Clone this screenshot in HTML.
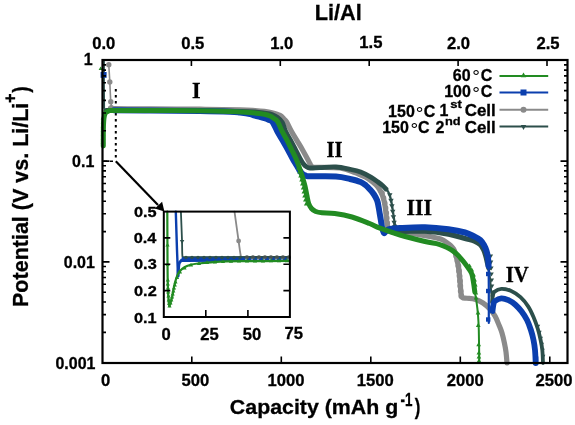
<!DOCTYPE html>
<html><head><meta charset="utf-8"><style>html,body{margin:0;padding:0;background:#fff;width:575px;height:425px;overflow:hidden}svg{display:block}</style></head>
<body>
<svg width="575" height="425" viewBox="0 0 575 425">
<rect width="575" height="425" fill="#fff"/>
<line x1="115.8" y1="89" x2="115.8" y2="160" stroke="#000" stroke-width="2" stroke-dasharray="2.6,3.4"/>
<line x1="104" y1="161.2" x2="115.8" y2="161.2" stroke="#000" stroke-width="1.6" stroke-dasharray="3,3"/>
<path d="M108.80,64.80 C108.97,67.67 109.47,75.83 109.80,82.00 C110.13,88.17 110.43,97.55 110.80,101.80 C111.17,106.05 111.80,106.55 112.00,107.50" fill="none" stroke="#8a8a8a" stroke-width="1.6" stroke-linejoin="round" stroke-linecap="round" />
<circle cx="108.8" cy="64.8" r="2.7" fill="#8a8a8a"/>
<circle cx="109.8" cy="82.0" r="2.7" fill="#8a8a8a"/>
<circle cx="110.8" cy="101.8" r="2.7" fill="#8a8a8a"/>
<path d="M111.50,107.50 C111.92,107.70 107.58,108.47 114.00,108.70 C120.42,108.93 135.67,108.82 150.00,108.90 C164.33,108.98 185.00,109.03 200.00,109.20 C215.00,109.37 230.83,109.67 240.00,109.90 C249.17,110.13 250.93,110.35 255.00,110.60 C259.07,110.85 261.57,111.05 264.40,111.40 C267.23,111.75 269.40,112.05 272.00,112.70 C274.60,113.35 278.00,114.25 280.00,115.30 C282.00,116.35 282.90,117.92 284.00,119.00 C285.10,120.08 285.37,119.77 286.60,121.80 C287.83,123.83 289.67,128.07 291.40,131.20 C293.13,134.33 295.18,137.55 297.00,140.60 C298.82,143.65 300.57,146.47 302.30,149.50 C304.03,152.53 306.13,156.47 307.40,158.80 C308.67,161.13 309.22,162.25 309.90,163.50 C310.58,164.75 310.48,165.67 311.50,166.30 C312.52,166.93 311.25,167.02 316.00,167.30 C320.75,167.58 333.50,167.13 340.00,168.00 C346.50,168.87 351.57,171.33 355.00,172.50 C358.43,173.67 358.43,174.00 360.60,175.00 C362.77,176.00 365.43,176.83 368.00,178.50 C370.57,180.17 374.03,183.08 376.00,185.00 C377.97,186.92 378.75,188.33 379.80,190.00 C380.85,191.67 381.60,193.23 382.30,195.00 C383.00,196.77 383.52,198.60 384.00,200.60 C384.48,202.60 384.87,204.77 385.20,207.00 C385.53,209.23 385.77,211.83 386.00,214.00 C386.23,216.17 386.35,218.00 386.60,220.00 C386.85,222.00 386.93,224.17 387.50,226.00 C388.07,227.83 388.58,229.87 390.00,231.00 C391.42,232.13 392.67,232.38 396.00,232.80 C399.33,233.22 405.17,233.03 410.00,233.50 C414.83,233.97 420.53,234.85 425.00,235.60 C429.47,236.35 433.80,237.27 436.80,238.00 C439.80,238.73 441.05,239.03 443.00,240.00 C444.95,240.97 447.00,242.63 448.50,243.80 C450.00,244.97 451.02,245.87 452.00,247.00 C452.98,248.13 453.60,248.63 454.40,250.60 C455.20,252.57 456.12,256.07 456.80,258.80 C457.48,261.53 458.05,264.30 458.50,267.00 C458.95,269.70 459.20,272.00 459.50,275.00 C459.80,278.00 460.05,282.00 460.30,285.00 C460.55,288.00 460.67,290.92 461.00,293.00 C461.33,295.08 461.30,296.63 462.30,297.50 C463.30,298.37 464.88,297.90 467.00,298.20 C469.12,298.50 472.33,298.50 475.00,299.30 C477.67,300.10 480.45,301.32 483.00,303.00 C485.55,304.68 488.30,307.23 490.30,309.40 C492.30,311.57 493.53,313.35 495.00,316.00 C496.47,318.65 497.93,322.47 499.10,325.30 C500.27,328.13 501.12,330.05 502.00,333.00 C502.88,335.95 503.73,339.83 504.40,343.00 C505.07,346.17 505.57,348.67 506.00,352.00 C506.43,355.33 506.83,361.17 507.00,363.00" fill="none" stroke="#8a8a8a" stroke-width="5.2" stroke-linejoin="round" stroke-linecap="round" />
<circle cx="456.3" cy="256.0" r="2.9" fill="#8a8a8a"/>
<circle cx="457.5" cy="261.0" r="2.9" fill="#8a8a8a"/>
<circle cx="458.4" cy="266.0" r="2.9" fill="#8a8a8a"/>
<circle cx="459.0" cy="271.0" r="2.9" fill="#8a8a8a"/>
<circle cx="459.5" cy="276.0" r="2.9" fill="#8a8a8a"/>
<circle cx="460.0" cy="281.0" r="2.9" fill="#8a8a8a"/>
<circle cx="460.3" cy="286.0" r="2.9" fill="#8a8a8a"/>
<circle cx="460.7" cy="291.0" r="2.9" fill="#8a8a8a"/>
<circle cx="461.3" cy="296.0" r="2.9" fill="#8a8a8a"/>
<circle cx="382.1" cy="193.0" r="2.7" fill="#8a8a8a"/>
<circle cx="383.6" cy="198.0" r="2.7" fill="#8a8a8a"/>
<circle cx="384.8" cy="203.0" r="2.7" fill="#8a8a8a"/>
<circle cx="385.7" cy="208.0" r="2.7" fill="#8a8a8a"/>
<circle cx="386.4" cy="213.0" r="2.7" fill="#8a8a8a"/>
<circle cx="386.9" cy="218.0" r="2.7" fill="#8a8a8a"/>
<circle cx="387.4" cy="223.0" r="2.7" fill="#8a8a8a"/>
<path d="M106.00,110.30 C113.33,110.30 134.33,110.25 150.00,110.30 C165.67,110.35 185.00,110.43 200.00,110.60 C215.00,110.77 230.83,111.07 240.00,111.30 C249.17,111.53 250.93,111.68 255.00,112.00 C259.07,112.32 261.57,112.77 264.40,113.20 C267.23,113.63 269.82,113.88 272.00,114.60 C274.18,115.32 275.78,116.18 277.50,117.50 C279.22,118.82 280.95,120.22 282.30,122.50 C283.65,124.78 284.18,128.18 285.60,131.20 C287.02,134.22 289.15,137.55 290.80,140.60 C292.45,143.65 293.92,146.47 295.50,149.50 C297.08,152.53 298.97,156.38 300.30,158.80 C301.63,161.22 302.47,162.67 303.50,164.00 C304.53,165.33 305.42,166.13 306.50,166.80 C307.58,167.47 307.75,167.87 310.00,168.00 C312.25,168.13 315.67,167.77 320.00,167.60 C324.33,167.43 331.00,166.72 336.00,167.00 C341.00,167.28 345.90,168.47 350.00,169.30 C354.10,170.13 357.07,170.67 360.60,172.00 C364.13,173.33 368.30,175.63 371.20,177.30 C374.10,178.97 376.12,180.63 378.00,182.00 C379.88,183.37 381.17,184.33 382.50,185.50 C383.83,186.67 385.42,188.42 386.00,189.00" fill="none" stroke="#2c4f4b" stroke-width="4.8" stroke-linejoin="round" stroke-linecap="round" />
<path d="M384.00,187.00 C384.50,187.50 386.12,188.83 387.00,190.00 C387.88,191.17 388.67,192.50 389.30,194.00 C389.93,195.50 390.35,197.17 390.80,199.00 C391.25,200.83 391.55,202.33 392.00,205.00 C392.45,207.67 393.08,212.17 393.50,215.00 C393.92,217.83 394.17,219.83 394.50,222.00 C394.83,224.17 395.33,227.00 395.50,228.00" fill="none" stroke="#2c4f4b" stroke-width="2.2" stroke-linejoin="round" stroke-linecap="round" />
<polygon points="389.8,198.0 387.1,193.2 392.5,193.2" fill="#2c4f4b"/>
<polygon points="391.0,203.5 388.3,198.7 393.7,198.7" fill="#2c4f4b"/>
<polygon points="391.9,209.0 389.2,204.2 394.6,204.2" fill="#2c4f4b"/>
<polygon points="392.7,214.5 390.0,209.7 395.4,209.7" fill="#2c4f4b"/>
<polygon points="393.4,220.0 390.7,215.2 396.1,215.2" fill="#2c4f4b"/>
<polygon points="394.1,225.5 391.4,220.7 396.8,220.7" fill="#2c4f4b"/>
<path d="M394.80,226.50 C395.08,227.05 395.30,229.00 396.50,229.80 C397.70,230.60 397.25,231.07 402.00,231.30 C406.75,231.53 417.25,230.73 425.00,231.20 C432.75,231.67 441.83,232.88 448.50,234.10 C455.17,235.32 460.68,237.35 465.00,238.50 C469.32,239.65 471.85,240.00 474.40,241.00 C476.95,242.00 478.78,243.08 480.30,244.50 C481.82,245.92 482.58,247.58 483.50,249.50 C484.42,251.42 485.13,253.75 485.80,256.00 C486.47,258.25 487.00,261.00 487.50,263.00 C488.00,265.00 488.58,267.17 488.80,268.00" fill="none" stroke="#2c4f4b" stroke-width="5.2" stroke-linejoin="round" stroke-linecap="round" />
<path d="M488.80,268.00 C489.03,270.00 489.80,276.00 490.20,280.00 C490.60,284.00 490.90,288.67 491.20,292.00 C491.50,295.33 491.87,298.67 492.00,300.00" fill="none" stroke="#2c4f4b" stroke-width="2" stroke-linejoin="round" stroke-linecap="round" />
<polygon points="490.8,258.5 488.6,254.5 493.1,254.5" fill="#2c4f4b"/>
<polygon points="491.1,264.5 488.8,260.5 493.3,260.5" fill="#2c4f4b"/>
<polygon points="491.3,270.5 489.1,266.5 493.6,266.5" fill="#2c4f4b"/>
<polygon points="491.5,276.5 489.3,272.5 493.8,272.5" fill="#2c4f4b"/>
<polygon points="491.8,282.5 489.5,278.5 494.0,278.5" fill="#2c4f4b"/>
<polygon points="492.0,288.5 489.8,284.5 494.3,284.5" fill="#2c4f4b"/>
<polygon points="492.3,294.5 490.0,290.5 494.5,290.5" fill="#2c4f4b"/>
<polygon points="492.5,299.5 490.2,295.5 494.7,295.5" fill="#2c4f4b"/>
<path d="M492.00,302.00 C492.13,301.00 492.38,297.72 492.80,296.00 C493.22,294.28 493.08,292.88 494.50,291.70 C495.92,290.52 498.52,289.02 501.30,288.90 C504.08,288.78 508.00,289.62 511.20,291.00 C514.40,292.38 517.65,294.60 520.50,297.20 C523.35,299.80 526.10,303.22 528.30,306.60 C530.50,309.98 532.13,313.85 533.70,317.50 C535.27,321.15 536.57,324.83 537.70,328.50 C538.83,332.17 539.73,335.92 540.50,339.50 C541.27,343.08 541.88,346.08 542.30,350.00 C542.72,353.92 542.88,360.83 543.00,363.00" fill="none" stroke="#2c4f4b" stroke-width="3.8" stroke-linejoin="round" stroke-linecap="round" />
<polygon points="538.2,328.2 536.2,324.7 540.2,324.7" fill="#2c4f4b"/>
<polygon points="539.7,334.2 537.7,330.7 541.7,330.7" fill="#2c4f4b"/>
<polygon points="541.0,340.2 539.0,336.7 543.0,336.7" fill="#2c4f4b"/>
<polygon points="542.0,346.2 540.0,342.7 544.0,342.7" fill="#2c4f4b"/>
<polygon points="542.8,352.2 540.8,348.7 544.8,348.7" fill="#2c4f4b"/>
<polygon points="543.4,358.2 541.4,354.7 545.4,354.7" fill="#2c4f4b"/>
<path d="M104.00,60.50 C104.00,64.58 103.97,77.08 104.00,85.00 C104.03,92.92 104.17,104.17 104.20,108.00" fill="none" stroke="#2c4f4b" stroke-width="1.8" stroke-linejoin="round" stroke-linecap="round" />
<rect x="100.6" y="72" width="6" height="5.8" fill="#0b3fae"/>
<polygon points="100.6,66.6 98.6,70.1 102.6,70.1" fill="#228b22"/>
<path d="M114.00,110.30 C120.00,110.33 135.67,110.38 150.00,110.50 C164.33,110.62 186.67,110.78 200.00,111.00 C213.33,111.22 223.33,111.53 230.00,111.80 C236.67,112.07 236.67,112.23 240.00,112.60 C243.33,112.97 247.50,113.50 250.00,114.00 C252.50,114.50 252.60,114.90 255.00,115.60 C257.40,116.30 262.15,117.50 264.40,118.20 C266.65,118.90 267.15,119.17 268.50,119.80 C269.85,120.43 271.03,120.10 272.50,122.00 C273.97,123.90 275.60,128.10 277.30,131.20 C279.00,134.30 280.95,137.55 282.70,140.60 C284.45,143.65 286.13,146.47 287.80,149.50 C289.47,152.53 291.27,156.22 292.70,158.80 C294.13,161.38 295.30,163.13 296.40,165.00 C297.50,166.87 298.37,168.58 299.30,170.00 C300.23,171.42 301.05,172.62 302.00,173.50 C302.95,174.38 303.67,174.83 305.00,175.30 C306.33,175.77 304.83,176.10 310.00,176.30 C315.17,176.50 329.33,176.05 336.00,176.50 C342.67,176.95 345.90,178.08 350.00,179.00 C354.10,179.92 357.93,180.92 360.60,182.00 C363.27,183.08 364.43,184.25 366.00,185.50 C367.57,186.75 368.67,188.00 370.00,189.50 C371.33,191.00 372.80,192.65 374.00,194.50 C375.20,196.35 376.43,198.52 377.20,200.60 C377.97,202.68 378.17,204.77 378.60,207.00 C379.03,209.23 379.40,211.67 379.80,214.00 C380.20,216.33 380.60,218.67 381.00,221.00 C381.40,223.33 381.70,226.00 382.20,228.00 C382.70,230.00 383.37,232.47 384.00,233.00 C384.63,233.53 385.00,231.87 386.00,231.20 C387.00,230.53 387.67,229.53 390.00,229.00 C392.33,228.47 394.17,228.28 400.00,228.00 C405.83,227.72 416.92,227.08 425.00,227.30 C433.08,227.52 441.83,228.43 448.50,229.30 C455.17,230.17 460.68,231.30 465.00,232.50 C469.32,233.70 471.85,235.25 474.40,236.50 C476.95,237.75 478.70,238.58 480.30,240.00 C481.90,241.42 482.97,243.17 484.00,245.00 C485.03,246.83 485.83,248.83 486.50,251.00 C487.17,253.17 487.65,255.50 488.00,258.00 C488.35,260.50 488.50,264.67 488.60,266.00" fill="none" stroke="#0b3fae" stroke-width="6.0" stroke-linejoin="round" stroke-linecap="round" />
<path d="M488.60,266.00 C488.63,270.00 488.77,280.50 488.80,290.00 C488.83,299.50 488.80,317.50 488.80,323.00" fill="none" stroke="#0b3fae" stroke-width="2.2" stroke-linejoin="round" stroke-linecap="round" />
<rect x="486.0" y="271.8" width="4.4" height="4.4" fill="#0b3fae"/>
<rect x="486.0" y="288.8" width="4.4" height="4.4" fill="#0b3fae"/>
<rect x="486.0" y="317.3" width="4.4" height="4.4" fill="#0b3fae"/>
<path d="M492.50,311.00 C492.67,309.83 493.08,305.67 493.50,304.00 C493.92,302.33 493.70,301.95 495.00,301.00 C496.30,300.05 499.07,298.45 501.30,298.30 C503.53,298.15 506.05,299.03 508.40,300.10 C510.75,301.17 513.17,302.75 515.40,304.70 C517.63,306.65 519.87,309.25 521.80,311.80 C523.73,314.35 525.48,316.97 527.00,320.00 C528.52,323.03 529.82,326.67 530.90,330.00 C531.98,333.33 532.82,336.67 533.50,340.00 C534.18,343.33 534.63,346.17 535.00,350.00 C535.37,353.83 535.58,360.83 535.70,363.00" fill="none" stroke="#0b3fae" stroke-width="5.8" stroke-linejoin="round" stroke-linecap="round" />
<rect x="533.3" y="356.5" width="5.0" height="5.0" fill="#0b3fae"/>
<path d="M103.30,146.00 C103.32,143.00 103.28,132.67 103.40,128.00 C103.52,123.33 103.65,120.50 104.00,118.00 C104.35,115.50 104.75,114.17 105.50,113.00 C106.25,111.83 107.08,111.43 108.50,111.00 C109.92,110.57 107.08,110.50 114.00,110.40 C120.92,110.30 135.67,110.33 150.00,110.40 C164.33,110.47 186.67,110.62 200.00,110.80 C213.33,110.98 222.50,111.27 230.00,111.50 C237.50,111.73 240.83,111.93 245.00,112.20 C249.17,112.47 251.77,112.75 255.00,113.10 C258.23,113.45 261.90,113.82 264.40,114.30 C266.90,114.78 268.40,115.30 270.00,116.00 C271.60,116.70 272.70,117.53 274.00,118.50 C275.30,119.47 276.47,119.68 277.80,121.80 C279.13,123.92 280.43,128.07 282.00,131.20 C283.57,134.33 285.62,137.55 287.20,140.60 C288.78,143.65 290.03,146.47 291.50,149.50 C292.97,152.53 294.67,155.72 296.00,158.80 C297.33,161.88 298.40,164.87 299.50,168.00 C300.60,171.13 301.68,174.60 302.60,177.60 C303.52,180.60 304.30,183.10 305.00,186.00 C305.70,188.90 306.18,192.08 306.80,195.00 C307.42,197.92 307.92,201.25 308.70,203.50 C309.48,205.75 310.33,207.17 311.50,208.50 C312.67,209.83 313.95,210.78 315.70,211.50 C317.45,212.22 318.82,212.47 322.00,212.80 C325.18,213.13 329.80,212.80 334.80,213.50 C339.80,214.20 346.20,215.33 352.00,217.00 C357.80,218.67 364.93,221.63 369.60,223.50 C374.27,225.37 374.93,226.28 380.00,228.20 C385.07,230.12 392.50,232.78 400.00,235.00 C407.50,237.22 418.48,239.95 425.00,241.50 C431.52,243.05 435.18,243.17 439.10,244.30 C443.02,245.43 446.15,247.17 448.50,248.30 C450.85,249.43 451.70,250.02 453.20,251.10 C454.70,252.18 456.17,253.52 457.50,254.80 C458.83,256.08 459.98,257.40 461.20,258.80 C462.42,260.20 463.63,261.67 464.80,263.20 C465.97,264.73 467.03,266.20 468.20,268.00 C469.37,269.80 470.90,271.50 471.80,274.00 C472.70,276.50 473.10,280.00 473.60,283.00 C474.10,286.00 474.60,290.50 474.80,292.00" fill="none" stroke="#228b22" stroke-width="5.0" stroke-linejoin="round" stroke-linecap="round" />
<polygon points="298.3,165.4 296.0,169.6 300.6,169.6" fill="#228b22"/>
<polygon points="299.4,169.4 297.1,173.6 301.7,173.6" fill="#228b22"/>
<polygon points="300.5,173.4 298.2,177.6 302.8,177.6" fill="#228b22"/>
<polygon points="301.5,177.4 299.2,181.6 303.8,181.6" fill="#228b22"/>
<polygon points="302.3,181.4 300.0,185.6 304.6,185.6" fill="#228b22"/>
<polygon points="303.1,185.4 300.8,189.6 305.4,189.6" fill="#228b22"/>
<polygon points="303.8,189.4 301.5,193.6 306.1,193.6" fill="#228b22"/>
<polygon points="304.5,193.4 302.2,197.6 306.8,197.6" fill="#228b22"/>
<polygon points="305.3,197.4 303.0,201.6 307.6,201.6" fill="#228b22"/>
<polygon points="306.2,201.4 303.9,205.6 308.5,205.6" fill="#228b22"/>
<polygon points="475.3,282.4 473.0,286.6 477.6,286.6" fill="#228b22"/>
<polygon points="474.6,277.4 472.3,281.6 476.9,281.6" fill="#228b22"/>
<polygon points="473.6,272.4 471.3,276.6 475.9,276.6" fill="#228b22"/>
<polygon points="471.8,267.4 469.5,271.6 474.1,271.6" fill="#228b22"/>
<polygon points="469.6,263.4 467.3,267.6 471.9,267.6" fill="#228b22"/>
<polygon points="103.0,115.4 100.7,119.6 105.3,119.6" fill="#228b22"/>
<polygon points="103.0,119.4 100.7,123.6 105.3,123.6" fill="#228b22"/>
<polygon points="103.0,123.4 100.7,127.6 105.3,127.6" fill="#228b22"/>
<polygon points="103.0,127.4 100.7,131.6 105.3,131.6" fill="#228b22"/>
<polygon points="103.0,131.4 100.7,135.6 105.3,135.6" fill="#228b22"/>
<polygon points="103.0,135.4 100.7,139.6 105.3,139.6" fill="#228b22"/>
<polygon points="103.0,139.4 100.7,143.6 105.3,143.6" fill="#228b22"/>
<polygon points="103.0,142.4 100.7,146.6 105.3,146.6" fill="#228b22"/>
<path d="M474.80,292.00 C475.08,293.62 475.97,297.87 476.50,301.70 C477.03,305.53 477.62,310.28 478.00,315.00 C478.38,319.72 478.58,322.00 478.80,330.00 C479.02,338.00 479.22,357.50 479.30,363.00" fill="none" stroke="#228b22" stroke-width="2" stroke-linejoin="round" stroke-linecap="round" />
<polygon points="475.9,290.4 473.5,294.6 478.2,294.6" fill="#228b22"/>
<polygon points="476.1,295.4 473.8,299.6 478.4,299.6" fill="#228b22"/>
<polygon points="478.0,310.2 475.7,314.4 480.4,314.4" fill="#228b22"/>
<polygon points="478.3,322.7 475.9,326.9 480.6,326.9" fill="#228b22"/>
<polygon points="478.7,342.1 476.3,346.3 481.0,346.3" fill="#228b22"/>
<polygon points="478.8,350.4 476.5,354.6 481.2,354.6" fill="#228b22"/>
<polygon points="478.9,354.4 476.6,358.6 481.2,358.6" fill="#228b22"/>
<polygon points="479.0,358.4 476.6,362.6 481.3,362.6" fill="#228b22"/>
<line x1="115.8" y1="161.2" x2="158" y2="205" stroke="#000" stroke-width="2.2"/>
<polygon points="164.4,211.4 162.1,201.8 154.8,208.6" fill="#000"/>
<rect x="102.5" y="60.0" width="465.0" height="303.0" fill="none" stroke="#000" stroke-width="2.2"/>
<path d="M102.5,362.7h7M567.5,362.7h-7M102.5,332.4h3.5M567.5,332.4h-3.5M102.5,314.6h3.5M567.5,314.6h-3.5M102.5,302.0h3.5M567.5,302.0h-3.5M102.5,292.2h3.5M567.5,292.2h-3.5M102.5,284.3h3.5M567.5,284.3h-3.5M102.5,277.5h3.5M567.5,277.5h-3.5M102.5,271.7h3.5M567.5,271.7h-3.5M102.5,266.5h3.5M567.5,266.5h-3.5M102.5,261.9h7M567.5,261.9h-7M102.5,231.6h3.5M567.5,231.6h-3.5M102.5,213.8h3.5M567.5,213.8h-3.5M102.5,201.2h3.5M567.5,201.2h-3.5M102.5,191.4h3.5M567.5,191.4h-3.5M102.5,183.5h3.5M567.5,183.5h-3.5M102.5,176.7h3.5M567.5,176.7h-3.5M102.5,170.9h3.5M567.5,170.9h-3.5M102.5,165.7h3.5M567.5,165.7h-3.5M102.5,161.1h7M567.5,161.1h-7M102.5,130.8h3.5M567.5,130.8h-3.5M102.5,113.0h3.5M567.5,113.0h-3.5M102.5,100.4h3.5M567.5,100.4h-3.5M102.5,90.6h3.5M567.5,90.6h-3.5M102.5,82.7h3.5M567.5,82.7h-3.5M102.5,75.9h3.5M567.5,75.9h-3.5M102.5,70.1h3.5M567.5,70.1h-3.5M102.5,64.9h3.5M567.5,64.9h-3.5M191.8,363.0v-6.5M281.3,363.0v-6.5M370.8,363.0v-6.5M460.3,363.0v-6.5M549.8,363.0v-6.5M191.4,60.0v6M280.3,60.0v6M369.2,60.0v6M458.1,60.0v6M547.0,60.0v6" stroke="#000" stroke-width="1.6" fill="none"/>
<rect x="163.8" y="211.6" width="126.09999999999997" height="105.4" fill="#fff" stroke="none"/>
<path d="M234.50,211.60 C235.18,216.50 237.52,233.52 238.60,241.00 C239.68,248.48 240.10,253.73 241.00,256.50 C241.90,259.27 243.50,257.42 244.00,257.60" fill="none" stroke="#8a8a8a" stroke-width="1.8" stroke-linejoin="round" stroke-linecap="round" />
<circle cx="238.6" cy="241.0" r="2.4" fill="#8a8a8a"/>
<path d="M180.90,211.60 C181.08,216.33 181.72,232.35 182.00,240.00 C182.28,247.65 181.93,254.53 182.60,257.50 C183.27,260.47 185.43,257.75 186.00,257.80" fill="none" stroke="#2c4f4b" stroke-width="1.8" stroke-linejoin="round" stroke-linecap="round" />
<polygon points="182.1,243.9 179.9,240.1 184.3,240.1" fill="#2c4f4b"/>
<path d="M175.80,211.60 C176.00,218.00 176.63,239.27 177.00,250.00 C177.37,260.73 177.83,271.67 178.00,276.00" fill="none" stroke="#0b3fae" stroke-width="2.4" stroke-linejoin="round" stroke-linecap="round" />
<path d="M178.00,276.00 C178.17,274.00 178.42,266.58 179.00,264.00 C179.58,261.42 180.33,261.23 181.50,260.50 C182.67,259.77 179.58,259.78 186.00,259.60 C192.42,259.42 202.83,259.48 220.00,259.40 C237.17,259.32 277.50,259.15 289.00,259.10" fill="none" stroke="#0b3fae" stroke-width="3" stroke-linejoin="round" stroke-linecap="round" />
<path d="M182,259.6 L289,259.2" stroke="#0b3fae" stroke-width="5"/>
<path d="M183,256.9 L289,256.6" stroke="#2c4f4b" stroke-width="1.4"/>
<circle cx="186.0" cy="257.4" r="1.7" fill="#2c4f4b"/>
<circle cx="192.0" cy="257.4" r="1.7" fill="#2c4f4b"/>
<circle cx="198.0" cy="257.4" r="1.7" fill="#2c4f4b"/>
<circle cx="204.0" cy="257.4" r="1.7" fill="#2c4f4b"/>
<circle cx="210.0" cy="257.4" r="1.7" fill="#2c4f4b"/>
<circle cx="216.0" cy="257.4" r="1.7" fill="#2c4f4b"/>
<circle cx="222.0" cy="257.4" r="1.7" fill="#2c4f4b"/>
<circle cx="228.0" cy="257.4" r="1.7" fill="#2c4f4b"/>
<circle cx="234.0" cy="257.4" r="1.7" fill="#2c4f4b"/>
<circle cx="240.0" cy="257.4" r="1.7" fill="#2c4f4b"/>
<circle cx="246.0" cy="257.4" r="1.7" fill="#2c4f4b"/>
<circle cx="252.0" cy="257.4" r="1.7" fill="#2c4f4b"/>
<circle cx="258.0" cy="257.4" r="1.7" fill="#2c4f4b"/>
<circle cx="264.0" cy="257.4" r="1.7" fill="#2c4f4b"/>
<circle cx="270.0" cy="257.4" r="1.7" fill="#2c4f4b"/>
<circle cx="276.0" cy="257.4" r="1.7" fill="#2c4f4b"/>
<circle cx="282.0" cy="257.4" r="1.7" fill="#2c4f4b"/>
<circle cx="288.0" cy="257.4" r="1.7" fill="#2c4f4b"/>
<circle cx="247.0" cy="257.3" r="2.0" fill="#47524f"/>
<circle cx="253.0" cy="257.3" r="2.0" fill="#47524f"/>
<circle cx="259.0" cy="257.3" r="2.0" fill="#47524f"/>
<circle cx="265.0" cy="257.3" r="2.0" fill="#47524f"/>
<circle cx="271.0" cy="257.3" r="2.0" fill="#47524f"/>
<circle cx="277.0" cy="257.3" r="2.0" fill="#47524f"/>
<circle cx="283.0" cy="257.3" r="2.0" fill="#47524f"/>
<circle cx="289.0" cy="257.3" r="2.0" fill="#47524f"/>
<polygon points="246.0,261.1 244.7,258.7 247.3,258.7" fill="#8ea6c4"/>
<polygon points="252.0,261.1 250.7,258.7 253.3,258.7" fill="#8ea6c4"/>
<polygon points="258.0,261.1 256.6,258.7 259.4,258.7" fill="#8ea6c4"/>
<polygon points="264.0,261.1 262.6,258.7 265.4,258.7" fill="#8ea6c4"/>
<polygon points="270.0,261.1 268.6,258.7 271.4,258.7" fill="#8ea6c4"/>
<polygon points="276.0,261.1 274.6,258.7 277.4,258.7" fill="#8ea6c4"/>
<polygon points="282.0,261.1 280.6,258.7 283.4,258.7" fill="#8ea6c4"/>
<polygon points="288.0,261.1 286.6,258.7 289.4,258.7" fill="#8ea6c4"/>
<path d="M167.30,211.60 C167.33,219.67 167.42,247.77 167.50,260.00 C167.58,272.23 167.63,278.33 167.80,285.00 C167.97,291.67 168.25,296.50 168.50,300.00 C168.75,303.50 168.88,305.83 169.30,306.00 C169.72,306.17 170.50,302.58 171.00,301.00 C171.50,299.42 171.80,298.83 172.30,296.50 C172.80,294.17 173.30,290.13 174.00,287.00 C174.70,283.87 175.58,280.28 176.50,277.70 C177.42,275.12 178.17,273.23 179.50,271.50 C180.83,269.77 182.75,268.38 184.50,267.30 C186.25,266.22 187.80,265.63 190.00,265.00 C192.20,264.37 193.28,264.03 197.70,263.50 C202.12,262.97 209.45,262.18 216.50,261.80 C223.55,261.42 227.92,261.35 240.00,261.20 C252.08,261.05 280.83,260.95 289.00,260.90" fill="none" stroke="#228b22" stroke-width="2.2" stroke-linejoin="round" stroke-linecap="round" />
<polygon points="167.5,242.7 165.4,246.4 169.6,246.4" fill="#228b22"/>
<polygon points="167.6,262.2 165.5,265.9 169.7,265.9" fill="#228b22"/>
<polygon points="167.8,277.7 165.7,281.4 169.9,281.4" fill="#228b22"/>
<polygon points="167.8,281.7 165.7,285.4 169.9,285.4" fill="#228b22"/>
<polygon points="168.0,285.7 165.9,289.4 170.1,289.4" fill="#228b22"/>
<polygon points="168.2,289.7 166.1,293.4 170.3,293.4" fill="#228b22"/>
<polygon points="168.5,293.7 166.4,297.4 170.6,297.4" fill="#228b22"/>
<polygon points="168.8,297.7 166.7,301.4 170.9,301.4" fill="#228b22"/>
<polygon points="169.2,301.2 167.1,304.9 171.3,304.9" fill="#228b22"/>
<polygon points="169.5,303.7 167.4,307.4 171.6,307.4" fill="#228b22"/>
<polygon points="170.5,300.7 168.4,304.4 172.6,304.4" fill="#228b22"/>
<polygon points="171.3,297.7 169.2,301.4 173.4,301.4" fill="#228b22"/>
<polygon points="172.0,294.7 169.9,298.4 174.1,298.4" fill="#228b22"/>
<polygon points="172.7,291.7 170.6,295.4 174.8,295.4" fill="#228b22"/>
<polygon points="173.3,288.7 171.2,292.4 175.4,292.4" fill="#228b22"/>
<polygon points="174.0,285.7 171.9,289.4 176.1,289.4" fill="#228b22"/>
<polygon points="174.8,282.7 172.7,286.4 176.9,286.4" fill="#228b22"/>
<polygon points="175.5,279.7 173.4,283.4 177.6,283.4" fill="#228b22"/>
<polygon points="177.0,275.2 174.9,278.9 179.1,278.9" fill="#228b22"/>
<polygon points="180.0,269.7 177.9,273.4 182.1,273.4" fill="#228b22"/>
<polygon points="184.5,265.7 182.4,269.4 186.6,269.4" fill="#228b22"/>
<polygon points="191.0,262.9 188.9,266.6 193.1,266.6" fill="#228b22"/>
<polygon points="199.0,261.3 196.9,265.0 201.1,265.0" fill="#228b22"/>
<polygon points="207.0,260.3 204.9,264.0 209.1,264.0" fill="#228b22"/>
<polygon points="215.0,259.8 212.9,263.5 217.1,263.5" fill="#228b22"/>
<polygon points="223.0,259.4 220.9,263.1 225.1,263.1" fill="#228b22"/>
<polygon points="231.0,259.1 228.9,262.8 233.1,262.8" fill="#228b22"/>
<polygon points="239.0,258.9 236.9,262.6 241.1,262.6" fill="#228b22"/>
<polygon points="247.0,258.8 244.9,262.5 249.1,262.5" fill="#228b22"/>
<polygon points="255.0,258.7 252.9,262.4 257.1,262.4" fill="#228b22"/>
<polygon points="263.0,258.7 260.9,262.4 265.1,262.4" fill="#228b22"/>
<polygon points="271.0,258.6 268.9,262.3 273.1,262.3" fill="#228b22"/>
<polygon points="279.0,258.6 276.9,262.3 281.1,262.3" fill="#228b22"/>
<polygon points="287.0,258.6 284.9,262.3 289.1,262.3" fill="#228b22"/>
<rect x="163.8" y="211.6" width="126.09999999999997" height="105.4" fill="none" stroke="#000" stroke-width="2"/>
<path d="M163.8,237.9h6.5M289.9,237.9h-6.5M163.8,264.3h6.5M289.9,264.3h-6.5M163.8,290.6h6.5M289.9,290.6h-6.5M205.8,317.0v-7M247.9,317.0v-7" stroke="#000" stroke-width="1.6"/>
<text transform="translate(100.89,386.34) scale(1.040,1.050)" font-family="Liberation Sans, sans-serif" font-weight="bold" font-size="16" fill="#000" stroke="#000" stroke-width="0.3">0</text>
<text transform="translate(181.52,386.34) scale(1.040,1.050)" font-family="Liberation Sans, sans-serif" font-weight="bold" font-size="16" fill="#000" stroke="#000" stroke-width="0.3">500</text>
<text transform="translate(267.50,386.34) scale(1.040,1.050)" font-family="Liberation Sans, sans-serif" font-weight="bold" font-size="16" fill="#000" stroke="#000" stroke-width="0.3">1000</text>
<text transform="translate(356.75,386.34) scale(1.040,1.050)" font-family="Liberation Sans, sans-serif" font-weight="bold" font-size="16" fill="#000" stroke="#000" stroke-width="0.3">1500</text>
<text transform="translate(446.66,386.34) scale(1.040,1.050)" font-family="Liberation Sans, sans-serif" font-weight="bold" font-size="16" fill="#000" stroke="#000" stroke-width="0.3">2000</text>
<text transform="translate(535.40,386.34) scale(1.040,1.050)" font-family="Liberation Sans, sans-serif" font-weight="bold" font-size="16" fill="#000" stroke="#000" stroke-width="0.3">2500</text>
<text transform="translate(92.13,48.51) scale(1.040,1.035)" font-family="Liberation Sans, sans-serif" font-weight="bold" font-size="16" fill="#000" stroke="#000" stroke-width="0.3">0.0</text>
<text transform="translate(181.22,48.51) scale(1.040,1.035)" font-family="Liberation Sans, sans-serif" font-weight="bold" font-size="16" fill="#000" stroke="#000" stroke-width="0.3">0.5</text>
<text transform="translate(270.13,48.51) scale(1.040,1.035)" font-family="Liberation Sans, sans-serif" font-weight="bold" font-size="16" fill="#000" stroke="#000" stroke-width="0.3">1.0</text>
<text transform="translate(359.32,48.38) scale(1.040,1.035)" font-family="Liberation Sans, sans-serif" font-weight="bold" font-size="16" fill="#000" stroke="#000" stroke-width="0.3">1.5</text>
<text transform="translate(446.95,48.51) scale(1.040,1.035)" font-family="Liberation Sans, sans-serif" font-weight="bold" font-size="16" fill="#000" stroke="#000" stroke-width="0.3">2.0</text>
<text transform="translate(536.38,48.51) scale(1.040,1.035)" font-family="Liberation Sans, sans-serif" font-weight="bold" font-size="16" fill="#000" stroke="#000" stroke-width="0.3">2.5</text>
<text transform="translate(83.85,65.20) scale(1.000,1.055)" font-family="Liberation Sans, sans-serif" font-weight="bold" font-size="16" fill="#000" stroke="#000" stroke-width="0.3">1</text>
<text transform="translate(72.06,166.77) scale(1.000,1.055)" font-family="Liberation Sans, sans-serif" font-weight="bold" font-size="16" fill="#000" stroke="#000" stroke-width="0.3">0.1</text>
<text transform="translate(63.76,267.77) scale(1.000,1.055)" font-family="Liberation Sans, sans-serif" font-weight="bold" font-size="16" fill="#000" stroke="#000" stroke-width="0.3">0.01</text>
<text transform="translate(55.42,368.87) scale(1.000,1.055)" font-family="Liberation Sans, sans-serif" font-weight="bold" font-size="16" fill="#000" stroke="#000" stroke-width="0.3">0.001</text>
<text transform="translate(314.72,20.23) scale(0.986,0.995)" font-family="Liberation Sans, sans-serif" font-weight="bold" font-size="22" fill="#000" stroke="#000" stroke-width="0.3">Li/Al</text>
<text transform="translate(229.85,414.05) scale(0.971,0.941)" font-family="Liberation Sans, sans-serif" font-weight="bold" font-size="22" fill="#000" stroke="#000" stroke-width="0.3">Capacity (mAh g</text>
<text transform="translate(400.48,406.30) scale(0.838,1.091)" font-family="Liberation Sans, sans-serif" font-weight="bold" font-size="16" fill="#000" stroke="#000" stroke-width="0.3">-1</text>
<text transform="translate(414.70,414.32) scale(0.768,0.970)" font-family="Liberation Sans, sans-serif" font-weight="bold" font-size="22" fill="#000" stroke="#000" stroke-width="0.3">)</text>
<text transform="translate(27.78,306.97) rotate(-90) scale(0.978,0.999)" font-family="Liberation Sans, sans-serif" font-weight="bold" font-size="22" fill="#000" stroke="#000" stroke-width="0.3">Potential (V vs. Li/Li</text>
<text transform="translate(16.48,103.04) rotate(-90) scale(1.022,1.108)" font-family="Liberation Sans, sans-serif" font-weight="bold" font-size="16" fill="#000" stroke="#000" stroke-width="0.3">+</text>
<text transform="translate(27.78,92.70) rotate(-90) scale(0.864,0.999)" font-family="Liberation Sans, sans-serif" font-weight="bold" font-size="22" fill="#000" stroke="#000" stroke-width="0.3">)</text>
<text transform="translate(191.91,97.80) scale(1.052,1.062)" font-family="Liberation Serif, serif" font-weight="bold" font-size="21" fill="#000" stroke="#000" stroke-width="0.3">I</text>
<text transform="translate(326.46,157.30) scale(0.982,1.062)" font-family="Liberation Serif, serif" font-weight="bold" font-size="21" fill="#000" stroke="#000" stroke-width="0.3">II</text>
<text transform="translate(406.52,214.70) scale(1.039,1.055)" font-family="Liberation Serif, serif" font-weight="bold" font-size="21" fill="#000" stroke="#000" stroke-width="0.3">III</text>
<text transform="translate(505.66,281.90) scale(0.983,1.069)" font-family="Liberation Serif, serif" font-weight="bold" font-size="21" fill="#000" stroke="#000" stroke-width="0.3">IV</text>
<text transform="translate(452.77,81.02) scale(1.000,0.975)" font-family="Liberation Sans, sans-serif" font-weight="bold" font-size="16" fill="#000" stroke="#000" stroke-width="0.3">60</text>
<text transform="translate(472.28,82.26) scale(1.200,1.070)" font-family="Liberation Sans, sans-serif" font-weight="normal" font-size="16" fill="#000" stroke="#000" stroke-width="0.0">°</text>
<text transform="translate(480.73,81.02) scale(1.000,0.975)" font-family="Liberation Sans, sans-serif" font-weight="bold" font-size="16" fill="#000" stroke="#000" stroke-width="0.3">C</text>
<text transform="translate(444.15,97.32) scale(1.000,0.975)" font-family="Liberation Sans, sans-serif" font-weight="bold" font-size="16" fill="#000" stroke="#000" stroke-width="0.3">100</text>
<text transform="translate(472.28,98.86) scale(1.200,1.070)" font-family="Liberation Sans, sans-serif" font-weight="normal" font-size="16" fill="#000" stroke="#000" stroke-width="0.0">°</text>
<text transform="translate(480.73,97.32) scale(1.000,0.975)" font-family="Liberation Sans, sans-serif" font-weight="bold" font-size="16" fill="#000" stroke="#000" stroke-width="0.3">C</text>
<text transform="translate(388.10,116.62) scale(1.000,0.975)" font-family="Liberation Sans, sans-serif" font-weight="bold" font-size="16" fill="#000" stroke="#000" stroke-width="0.3">150</text>
<text transform="translate(415.82,118.56) scale(1.200,1.070)" font-family="Liberation Sans, sans-serif" font-weight="normal" font-size="16" fill="#000" stroke="#000" stroke-width="0.0">°</text>
<text transform="translate(423.73,116.62) scale(1.000,0.975)" font-family="Liberation Sans, sans-serif" font-weight="bold" font-size="16" fill="#000" stroke="#000" stroke-width="0.3">C</text>
<text transform="translate(439.55,116.31) scale(1.000,0.975)" font-family="Liberation Sans, sans-serif" font-weight="bold" font-size="16" fill="#000" stroke="#000" stroke-width="0.3">1</text>
<text transform="translate(450.25,107.77) scale(1.189,1.025)" font-family="Liberation Sans, sans-serif" font-weight="bold" font-size="11" fill="#000" stroke="#000" stroke-width="0.3">st</text>
<text transform="translate(464.64,116.28) scale(1.061,0.979)" font-family="Liberation Sans, sans-serif" font-weight="bold" font-size="16" fill="#000" stroke="#000" stroke-width="0.3">Cell</text>
<text transform="translate(382.20,132.97) scale(1.000,0.975)" font-family="Liberation Sans, sans-serif" font-weight="bold" font-size="16" fill="#000" stroke="#000" stroke-width="0.3">150</text>
<text transform="translate(410.38,134.81) scale(1.200,1.070)" font-family="Liberation Sans, sans-serif" font-weight="normal" font-size="16" fill="#000" stroke="#000" stroke-width="0.0">°</text>
<text transform="translate(417.98,132.97) scale(1.000,0.975)" font-family="Liberation Sans, sans-serif" font-weight="bold" font-size="16" fill="#000" stroke="#000" stroke-width="0.3">C</text>
<text transform="translate(435.48,133.48) scale(1.000,0.975)" font-family="Liberation Sans, sans-serif" font-weight="bold" font-size="16" fill="#000" stroke="#000" stroke-width="0.3">2</text>
<text transform="translate(444.93,124.89) scale(1.167,0.912)" font-family="Liberation Sans, sans-serif" font-weight="bold" font-size="11" fill="#000" stroke="#000" stroke-width="0.3">nd</text>
<text transform="translate(464.64,133.38) scale(1.061,0.987)" font-family="Liberation Sans, sans-serif" font-weight="bold" font-size="16" fill="#000" stroke="#000" stroke-width="0.3">Cell</text>
<text transform="translate(133.95,217.05) scale(1.090,1.000)" font-family="Liberation Sans, sans-serif" font-weight="bold" font-size="15" fill="#000" stroke="#000" stroke-width="0.3">0.5</text>
<text transform="translate(133.75,242.60) scale(1.090,1.000)" font-family="Liberation Sans, sans-serif" font-weight="bold" font-size="15" fill="#000" stroke="#000" stroke-width="0.3">0.4</text>
<text transform="translate(134.02,269.35) scale(1.090,1.000)" font-family="Liberation Sans, sans-serif" font-weight="bold" font-size="15" fill="#000" stroke="#000" stroke-width="0.3">0.3</text>
<text transform="translate(134.02,296.00) scale(1.090,1.000)" font-family="Liberation Sans, sans-serif" font-weight="bold" font-size="15" fill="#000" stroke="#000" stroke-width="0.3">0.2</text>
<text transform="translate(133.95,322.50) scale(1.090,1.000)" font-family="Liberation Sans, sans-serif" font-weight="bold" font-size="15" fill="#000" stroke="#000" stroke-width="0.3">0.1</text>
<text transform="translate(161.58,339.52) scale(1.040,0.975)" font-family="Liberation Sans, sans-serif" font-weight="bold" font-size="16" fill="#000" stroke="#000" stroke-width="0.3">0</text>
<text transform="translate(200.26,339.52) scale(1.040,0.975)" font-family="Liberation Sans, sans-serif" font-weight="bold" font-size="16" fill="#000" stroke="#000" stroke-width="0.3">25</text>
<text transform="translate(242.78,339.52) scale(1.040,0.975)" font-family="Liberation Sans, sans-serif" font-weight="bold" font-size="16" fill="#000" stroke="#000" stroke-width="0.3">50</text>
<text transform="translate(284.47,339.40) scale(1.040,0.975)" font-family="Liberation Sans, sans-serif" font-weight="bold" font-size="16" fill="#000" stroke="#000" stroke-width="0.3">75</text>
<line x1="499.5" y1="75.9" x2="548.2" y2="75.9" stroke="#228b22" stroke-width="2"/>
<polygon points="523.5,72.4 520.8,77.2 526.2,77.2" fill="#228b22"/>
<line x1="499.5" y1="92.5" x2="548.2" y2="92.5" stroke="#0b3fae" stroke-width="2"/>
<rect x="520.5" y="89.5" width="6.0" height="6.0" fill="#0b3fae"/>
<line x1="499.5" y1="109.7" x2="548.2" y2="109.7" stroke="#8a8a8a" stroke-width="2"/>
<circle cx="523.5" cy="109.7" r="3" fill="#8a8a8a"/>
<line x1="499.5" y1="126.4" x2="548.2" y2="126.4" stroke="#2c4f4b" stroke-width="2"/>
<polygon points="523.5,129.9 520.8,125.1 526.2,125.1" fill="#2c4f4b"/>
</svg>
</body></html>
